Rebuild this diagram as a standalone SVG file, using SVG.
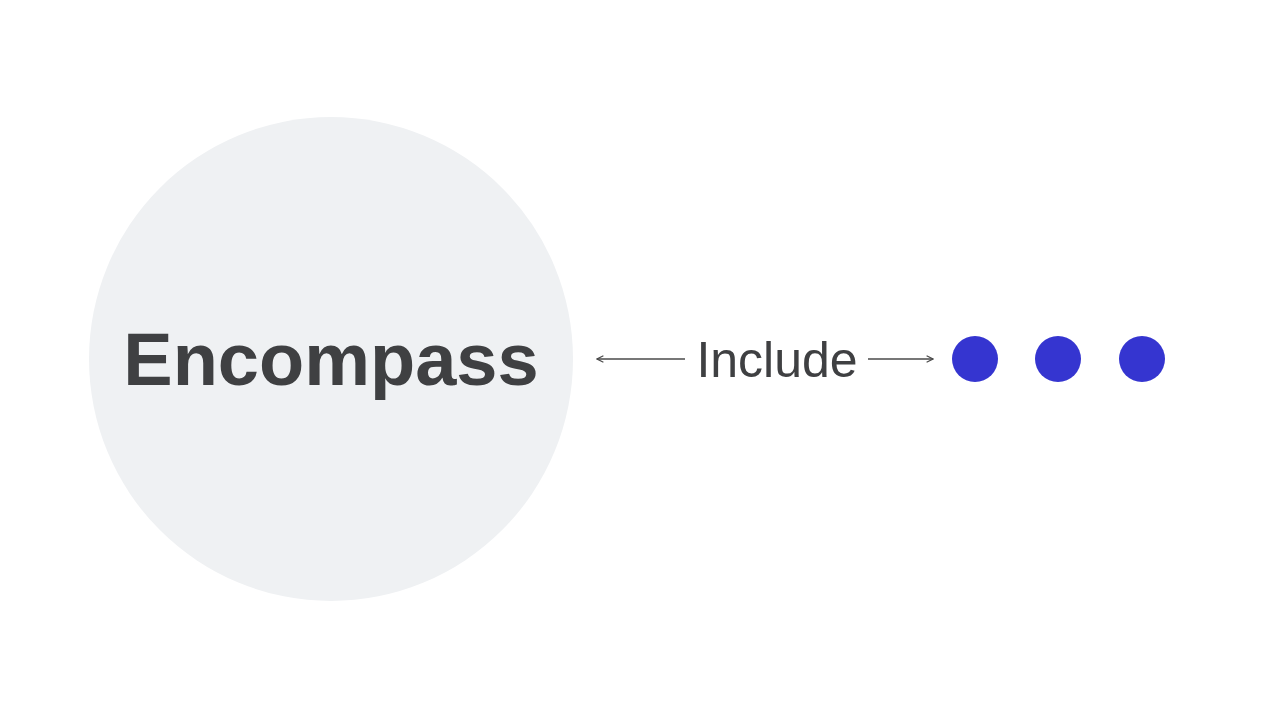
<svg xmlns="http://www.w3.org/2000/svg" width="1280" height="720" viewBox="0 0 1280 720">
<style>
.lbl{font-family:"Liberation Sans",Arial,sans-serif;fill:#3f4042}
.dot{fill:#3535d0}
.conn{stroke:#4a4a4a;stroke-width:1.5;fill:none}
</style>
<defs>
<marker id="ah" viewBox="0 0 10 10" refX="9" refY="5" markerWidth="8" markerHeight="8" markerUnits="userSpaceOnUse" orient="auto-start-reverse">
<path d="M1,1 L9,5 L1,9" fill="none" stroke="#4a4a4a" stroke-width="1.5"/>
</marker>
</defs>
<rect width="1280" height="720" fill="#ffffff"/>
<g id="encompass">
<circle cx="331" cy="359" r="242" fill="#eff1f3"/>
<text class="lbl" x="331" y="385" text-anchor="middle" font-size="74" font-weight="bold">Encompass</text>
</g>
<g id="connectors">
<line class="conn" x1="597" y1="359" x2="685" y2="359" marker-start="url(#ah)"/>
<line class="conn" x1="868" y1="359" x2="933" y2="359" marker-end="url(#ah)"/>
<text class="lbl" x="777" y="377" text-anchor="middle" font-size="50">Include</text>
</g>
<g id="dots">
<circle class="dot" cx="975" cy="359" r="23"/>
<circle class="dot" cx="1058" cy="359" r="23"/>
<circle class="dot" cx="1142" cy="359" r="23"/>
</g>
</svg>
